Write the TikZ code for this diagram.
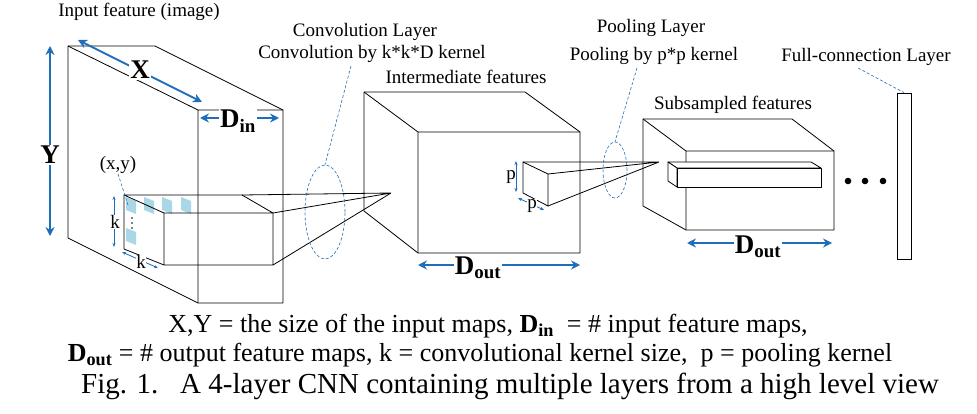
\documentclass[tikz,border=0pt]{standalone}
\usepackage{fontspec}
\setmainfont{Liberation Serif}
\usetikzlibrary{arrows.meta,shapes.geometric}
\definecolor{cblue}{RGB}{30,110,185}
\definecolor{lblue}{RGB}{170,215,230}
\begin{document}
\begin{tikzpicture}[x=1pt,y=-1pt,
  edge/.style={black,line width=0.8pt,line join=round},
  dim/.style={cblue,line width=2pt,{Stealth[length=9pt,width=9pt]}-{Stealth[length=9pt,width=9pt]}},
  sdim/.style={cblue,line width=0.8pt,{Stealth[length=4pt]}-{Stealth[length=4pt]}},
  dlab/.style={fill=white,inner sep=1pt,font=\fontsize{27}{29}\selectfont\bfseries},
  lab/.style={font=\fontsize{19}{21}\selectfont,inner sep=0pt},
  lead/.style={cblue,densely dashed,line width=0.6pt},
  captxt/.style={font=\fontsize{26}{28}\selectfont,inner sep=0pt}]
\useasboundingbox (0,0) rectangle (977,414);
% input cube
\draw[edge] (68,46) -- (155,46) -- (283,110) -- (283,303) -- (198,303) -- (68,238) -- cycle;
\draw[edge] (68,46) -- (198,110) -- (283,110) (198,110) -- (198,303);
% kernel squares
\foreach \x in {126,144,162,181} \fill[lblue] (\x,197) -- (\x+10,201) -- (\x+10,214) -- (\x,210) -- cycle;
\fill[lblue] (126,228) -- (136,232) -- (136,245) -- (126,241) -- cycle;
\foreach \y in {218,223,228} \fill (132,\y) circle (0.9);
% kernel box
\draw[edge] (124,195) -- (242,195) -- (273,213) -- (164,213) -- cycle;
\draw[edge] (124,195) -- (124,249) -- (164,265) -- (273,265) -- (273,213) (164,213) -- (164,265);
\coordinate (kA) at (242,195); \coordinate (kB) at (273,213); \coordinate (kC) at (273,265);
\coordinate (conv) at (391,193);
\draw[edge] (kA) -- (conv) (kB) -- (conv) (kC) -- (conv);
% input dims
\draw[dim] (78,40) -- (202,102);
\node[dlab] (X) at (140,70) {X};
\draw[dim] (50,46) -- (50,236);
\node[dlab] (Y) at (50,155) {Y};
\draw[dim] (200,118) -- (279,118);
\node[dlab] (Din) at (238,121) {D\textsubscript{in}};
\draw[sdim] (114,196) -- (114,247);
\node[lab,fill=white,inner sep=0.5pt] (k1) at (115,222) {k};
\draw[sdim] (122,252) -- (158,268);
\node[lab,fill=white,inner sep=0.5pt] (k2) at (141,262) {k};
\node[lab] (xy) at (118,165) {(x,y)};
\draw[lead] (xy.south) -- (128,205);
% intermediate cube
\draw[edge] (364,92) -- (525,92) -- (580,132) -- (580,253) -- (418,253) -- (364,211) -- cycle;
\draw[edge] (364,92) -- (418,132) -- (580,132) (418,132) -- (418,253);
\node[lab] (inter) at (466,77) {Intermediate features};
% pool box
\draw[edge] (523,162) -- (548,174) -- (548,206) -- (523,193) -- cycle;
\coordinate (pool) at (659,162);
\draw[edge] (523,162) -- (pool) (548,174) -- (pool) (548,206) -- (pool);
\draw[sdim] (516,161) -- (516,192);
\node[lab,fill=white,inner sep=0.5pt] (p1) at (511,177) {p};
\draw[sdim] (518,198) -- (544,210);
\node[lab,fill=white,inner sep=0.5pt] (p2) at (532,206) {p};
\draw[dim] (418,265) -- (580,265);
\node[dlab] (Dout1) at (478,268) {D\textsubscript{out}};
% conv ellipse + labels
\node[draw=cblue,densely dashed,line width=0.6pt,ellipse,minimum width=40pt,minimum height=94pt,inner sep=0pt] (cE) at (325,212) {};
\node[lab] (convT1) at (365,32) {Convolution Layer};
\node[lab] (convT2) at (372,54) {Convolution by k*k*D kernel};
\draw[lead] (351,66) -- (cE.north);
% pool ellipse
\node[draw=cblue,densely dashed,line width=0.6pt,ellipse,minimum width=24pt,minimum height=56pt,inner sep=0pt] (pE) at (615,170) {};
\node[lab] (poolT1) at (651,28) {Pooling Layer};
\node[lab] (poolT2) at (654,56) {Pooling by p*p kernel};
\draw[lead] (637,68) -- (pE.north);
% subsampled cube
\draw[edge] (643,119) -- (792,119) -- (834,151) -- (834,230) -- (686,230) -- (643,206) -- cycle;
\draw[edge] (643,119) -- (686,151) -- (834,151) (686,151) -- (686,230);
\draw[edge,fill=white] (668,162) -- (811,162) -- (821,168) -- (677,168) -- cycle;
\draw[edge,fill=white] (668,162) -- (677,168) -- (677,187) -- (668,181) -- cycle;
\draw[edge,fill=white] (677,168) rectangle (821,187);
\node[lab] (sub) at (733,105) {Subsampled features};
\draw[dim] (687,243) -- (832,243);
\node[dlab] (Dout2) at (758,247) {D\textsubscript{out}};
\foreach \x in {848,865,883} \fill (\x,181) circle (3.3);
% FC
\node[draw,line width=0.8pt,minimum width=14pt,minimum height=166pt,inner sep=0pt] (fc) at (904,176) {};
\node[lab] (fcT) at (866,57) {Full-connection Layer};
\draw[lead] (858,68) -- (fc.north);
\node[lab] (inp) at (139,12) {Input feature (image)};
% caption
\node[captxt] (c1) at (488,326) {X,Y = the size of the input maps, \textbf{D\textsubscript{in}}\ \ = \# input feature maps,};
\node[captxt] (c2) at (480,355) {\textbf{D\textsubscript{out}} = \# output feature maps, k = convolutional kernel size,\ \ p = pooling kernel};
\node[font=\fontsize{29}{31}\selectfont,inner sep=0pt] (c3) at (510,386) {Fig. 1.\ \ \ A 4-layer CNN containing multiple layers from a high level view};
\end{tikzpicture}
\end{document}
